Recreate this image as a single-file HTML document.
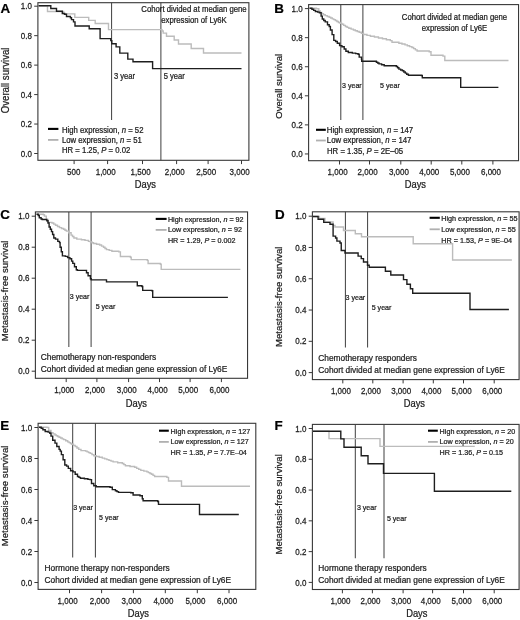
<!DOCTYPE html>
<html><head><meta charset="utf-8"><title>Kaplan-Meier survival curves by Ly6K / Ly6E expression</title>
<style>
html,body{margin:0;padding:0;background:#fff;}
body{width:520px;height:620px;overflow:hidden;}
svg{display:block;font-family:"Liberation Sans", sans-serif;}
</style></head><body>
<svg width="520" height="620" viewBox="0 0 520 620">
<rect width="520" height="620" fill="#fff"/>
<rect x="37.90" y="2.70" width="211.00" height="157.60" fill="none" stroke="#383838" stroke-width="1.1"/>
<line x1="34.20" y1="153.50" x2="37.90" y2="153.50" stroke="#383838" stroke-width="1.0" stroke-linecap="butt"/>
<text transform="translate(31.90,156.60) scale(1,1.14)" font-size="8" text-anchor="end" font-weight="normal" fill="#1c1c1c" stroke="#1c1c1c" stroke-width="0.22" >0.0</text>
<line x1="34.20" y1="124.04" x2="37.90" y2="124.04" stroke="#383838" stroke-width="1.0" stroke-linecap="butt"/>
<text transform="translate(31.90,127.14) scale(1,1.14)" font-size="8" text-anchor="end" font-weight="normal" fill="#1c1c1c" stroke="#1c1c1c" stroke-width="0.22" >0.2</text>
<line x1="34.20" y1="94.58" x2="37.90" y2="94.58" stroke="#383838" stroke-width="1.0" stroke-linecap="butt"/>
<text transform="translate(31.90,97.68) scale(1,1.14)" font-size="8" text-anchor="end" font-weight="normal" fill="#1c1c1c" stroke="#1c1c1c" stroke-width="0.22" >0.4</text>
<line x1="34.20" y1="65.12" x2="37.90" y2="65.12" stroke="#383838" stroke-width="1.0" stroke-linecap="butt"/>
<text transform="translate(31.90,68.22) scale(1,1.14)" font-size="8" text-anchor="end" font-weight="normal" fill="#1c1c1c" stroke="#1c1c1c" stroke-width="0.22" >0.6</text>
<line x1="34.20" y1="35.66" x2="37.90" y2="35.66" stroke="#383838" stroke-width="1.0" stroke-linecap="butt"/>
<text transform="translate(31.90,38.76) scale(1,1.14)" font-size="8" text-anchor="end" font-weight="normal" fill="#1c1c1c" stroke="#1c1c1c" stroke-width="0.22" >0.8</text>
<line x1="34.20" y1="6.20" x2="37.90" y2="6.20" stroke="#383838" stroke-width="1.0" stroke-linecap="butt"/>
<text transform="translate(31.90,9.30) scale(1,1.14)" font-size="8" text-anchor="end" font-weight="normal" fill="#1c1c1c" stroke="#1c1c1c" stroke-width="0.22" >1.0</text>
<line x1="74.10" y1="160.30" x2="74.10" y2="164.10" stroke="#383838" stroke-width="1.0" stroke-linecap="butt"/>
<text transform="translate(73.70,174.60) scale(1,1.14)" font-size="8" text-anchor="middle" font-weight="normal" fill="#1c1c1c" stroke="#1c1c1c" stroke-width="0.22" >500</text>
<line x1="107.60" y1="160.30" x2="107.60" y2="164.10" stroke="#383838" stroke-width="1.0" stroke-linecap="butt"/>
<text transform="translate(105.70,174.60) scale(1,1.14)" font-size="8" text-anchor="middle" font-weight="normal" fill="#1c1c1c" stroke="#1c1c1c" stroke-width="0.22" >1,000</text>
<line x1="142.50" y1="160.30" x2="142.50" y2="164.10" stroke="#383838" stroke-width="1.0" stroke-linecap="butt"/>
<text transform="translate(140.60,174.60) scale(1,1.14)" font-size="8" text-anchor="middle" font-weight="normal" fill="#1c1c1c" stroke="#1c1c1c" stroke-width="0.22" >1,500</text>
<line x1="176.60" y1="160.30" x2="176.60" y2="164.10" stroke="#383838" stroke-width="1.0" stroke-linecap="butt"/>
<text transform="translate(174.70,174.60) scale(1,1.14)" font-size="8" text-anchor="middle" font-weight="normal" fill="#1c1c1c" stroke="#1c1c1c" stroke-width="0.22" >2,000</text>
<line x1="208.10" y1="160.30" x2="208.10" y2="164.10" stroke="#383838" stroke-width="1.0" stroke-linecap="butt"/>
<text transform="translate(206.20,174.60) scale(1,1.14)" font-size="8" text-anchor="middle" font-weight="normal" fill="#1c1c1c" stroke="#1c1c1c" stroke-width="0.22" >2,500</text>
<line x1="241.50" y1="160.30" x2="241.50" y2="164.10" stroke="#383838" stroke-width="1.0" stroke-linecap="butt"/>
<text transform="translate(239.60,174.60) scale(1,1.14)" font-size="8" text-anchor="middle" font-weight="normal" fill="#1c1c1c" stroke="#1c1c1c" stroke-width="0.22" >3,000</text>
<text transform="translate(145.40,187.70) scale(1,1.08)" font-size="9.35" text-anchor="middle" font-weight="normal" fill="#1c1c1c" stroke="#1c1c1c" stroke-width="0.22" >Days</text>
<text transform="translate(8.60,80.40) rotate(-90) scale(1,1.04)" font-size="9.62" text-anchor="middle" font-weight="normal" fill="#1c1c1c" stroke="#1c1c1c" stroke-width="0.22" >Overall survival</text>
<text transform="translate(0.50,12.60) scale(1,1.0)" font-size="13.4" text-anchor="start" font-weight="bold" fill="#000" stroke="#000" stroke-width="0.2" >A</text>
<line x1="111.60" y1="2.70" x2="111.60" y2="120.00" stroke="#3e3e3e" stroke-width="1.0" stroke-linecap="butt"/>
<line x1="160.90" y1="2.70" x2="160.90" y2="160.30" stroke="#3e3e3e" stroke-width="1.0" stroke-linecap="butt"/>
<text transform="translate(114.00,78.65) scale(1,1.1)" font-size="7.6" text-anchor="start" font-weight="normal" fill="#1c1c1c" stroke="#1c1c1c" stroke-width="0.22" >3 year</text>
<text transform="translate(163.70,78.70) scale(1,1.1)" font-size="7.6" text-anchor="start" font-weight="normal" fill="#1c1c1c" stroke="#1c1c1c" stroke-width="0.22" >5 year</text>
<path d="M38.50 5.80H47.50V11.50H63.70V13.90H74.80V17.40H88.70V20.40H95.20V23.50H108.50V29.60H162.00V31.00H163.20V33.10H166.50V36.30H174.20V40.00H178.50V44.00H191.20V48.50H203.50V53.00H241.50" fill="none" stroke="#bcbcbc" stroke-width="1.4" stroke-linejoin="miter"/>
<path d="M38.50 5.80H50.80V8.50H56.50V11.20H62.30V13.50H64.60V14.20H66.50V16.50H70.40V17.70H71.50V19.60H73.50V21.90H75.00V26.00H89.20V28.80H100.10V38.60H110.80V40.60H111.80V43.80H116.10V46.90H119.80V53.10H127.80V59.10H133.00V61.70H152.60V68.60H241.50" fill="none" stroke="#1e1e1e" stroke-width="1.4" stroke-linejoin="miter"/>
<line x1="48.00" y1="128.90" x2="58.40" y2="128.90" stroke="#000" stroke-width="2.1" stroke-linecap="butt"/>
<line x1="48.00" y1="139.90" x2="58.40" y2="139.90" stroke="#b0b0b0" stroke-width="1.8" stroke-linecap="butt"/>
<text transform="translate(61.90,133.00) scale(1,1.12)" font-size="7.75" text-anchor="start" font-weight="normal" fill="#1c1c1c" stroke="#1c1c1c" stroke-width="0.22" >High expression, <tspan font-style="italic">n</tspan> = 52</text>
<text transform="translate(61.90,143.20) scale(1,1.12)" font-size="7.75" text-anchor="start" font-weight="normal" fill="#1c1c1c" stroke="#1c1c1c" stroke-width="0.22" >Low expression, <tspan font-style="italic">n</tspan> = 51</text>
<text transform="translate(61.90,153.40) scale(1,1.12)" font-size="7.75" text-anchor="start" font-weight="normal" fill="#1c1c1c" stroke="#1c1c1c" stroke-width="0.22" >HR = 1.25, <tspan font-style="italic">P</tspan> = 0.02</text>
<text transform="translate(194.00,12.00) scale(1,1.08)" font-size="7.75" text-anchor="middle" font-weight="normal" fill="#1c1c1c" stroke="#1c1c1c" stroke-width="0.22" >Cohort divided at median gene</text>
<text transform="translate(194.00,22.50) scale(1,1.08)" font-size="7.75" text-anchor="middle" font-weight="normal" fill="#1c1c1c" stroke="#1c1c1c" stroke-width="0.22" >expression of Ly6K</text>
<rect x="308.60" y="4.60" width="209.95" height="156.10" fill="none" stroke="#383838" stroke-width="1.1"/>
<line x1="304.90" y1="153.95" x2="308.60" y2="153.95" stroke="#383838" stroke-width="1.0" stroke-linecap="butt"/>
<text transform="translate(302.60,157.05) scale(1,1.14)" font-size="8" text-anchor="end" font-weight="normal" fill="#1c1c1c" stroke="#1c1c1c" stroke-width="0.22" >0.0</text>
<line x1="304.90" y1="124.88" x2="308.60" y2="124.88" stroke="#383838" stroke-width="1.0" stroke-linecap="butt"/>
<text transform="translate(302.60,127.98) scale(1,1.14)" font-size="8" text-anchor="end" font-weight="normal" fill="#1c1c1c" stroke="#1c1c1c" stroke-width="0.22" >0.2</text>
<line x1="304.90" y1="95.81" x2="308.60" y2="95.81" stroke="#383838" stroke-width="1.0" stroke-linecap="butt"/>
<text transform="translate(302.60,98.91) scale(1,1.14)" font-size="8" text-anchor="end" font-weight="normal" fill="#1c1c1c" stroke="#1c1c1c" stroke-width="0.22" >0.4</text>
<line x1="304.90" y1="66.74" x2="308.60" y2="66.74" stroke="#383838" stroke-width="1.0" stroke-linecap="butt"/>
<text transform="translate(302.60,69.84) scale(1,1.14)" font-size="8" text-anchor="end" font-weight="normal" fill="#1c1c1c" stroke="#1c1c1c" stroke-width="0.22" >0.6</text>
<line x1="304.90" y1="37.67" x2="308.60" y2="37.67" stroke="#383838" stroke-width="1.0" stroke-linecap="butt"/>
<text transform="translate(302.60,40.77) scale(1,1.14)" font-size="8" text-anchor="end" font-weight="normal" fill="#1c1c1c" stroke="#1c1c1c" stroke-width="0.22" >0.8</text>
<line x1="304.90" y1="8.60" x2="308.60" y2="8.60" stroke="#383838" stroke-width="1.0" stroke-linecap="butt"/>
<text transform="translate(302.60,11.70) scale(1,1.14)" font-size="8" text-anchor="end" font-weight="normal" fill="#1c1c1c" stroke="#1c1c1c" stroke-width="0.22" >1.0</text>
<line x1="339.50" y1="160.70" x2="339.50" y2="164.50" stroke="#383838" stroke-width="1.0" stroke-linecap="butt"/>
<text transform="translate(337.60,175.00) scale(1,1.14)" font-size="8" text-anchor="middle" font-weight="normal" fill="#1c1c1c" stroke="#1c1c1c" stroke-width="0.22" >1,000</text>
<line x1="369.50" y1="160.70" x2="369.50" y2="164.50" stroke="#383838" stroke-width="1.0" stroke-linecap="butt"/>
<text transform="translate(367.60,175.00) scale(1,1.14)" font-size="8" text-anchor="middle" font-weight="normal" fill="#1c1c1c" stroke="#1c1c1c" stroke-width="0.22" >2,000</text>
<line x1="400.80" y1="160.70" x2="400.80" y2="164.50" stroke="#383838" stroke-width="1.0" stroke-linecap="butt"/>
<text transform="translate(398.90,175.00) scale(1,1.14)" font-size="8" text-anchor="middle" font-weight="normal" fill="#1c1c1c" stroke="#1c1c1c" stroke-width="0.22" >3,000</text>
<line x1="431.20" y1="160.70" x2="431.20" y2="164.50" stroke="#383838" stroke-width="1.0" stroke-linecap="butt"/>
<text transform="translate(429.30,175.00) scale(1,1.14)" font-size="8" text-anchor="middle" font-weight="normal" fill="#1c1c1c" stroke="#1c1c1c" stroke-width="0.22" >4,000</text>
<line x1="461.80" y1="160.70" x2="461.80" y2="164.50" stroke="#383838" stroke-width="1.0" stroke-linecap="butt"/>
<text transform="translate(459.90,175.00) scale(1,1.14)" font-size="8" text-anchor="middle" font-weight="normal" fill="#1c1c1c" stroke="#1c1c1c" stroke-width="0.22" >5,000</text>
<line x1="492.90" y1="160.70" x2="492.90" y2="164.50" stroke="#383838" stroke-width="1.0" stroke-linecap="butt"/>
<text transform="translate(491.00,175.00) scale(1,1.14)" font-size="8" text-anchor="middle" font-weight="normal" fill="#1c1c1c" stroke="#1c1c1c" stroke-width="0.22" >6,000</text>
<text transform="translate(415.40,187.50) scale(1,1.08)" font-size="9.35" text-anchor="middle" font-weight="normal" fill="#1c1c1c" stroke="#1c1c1c" stroke-width="0.22" >Days</text>
<text transform="translate(282.20,86.30) rotate(-90) scale(1,1.04)" font-size="9.47" text-anchor="middle" font-weight="normal" fill="#1c1c1c" stroke="#1c1c1c" stroke-width="0.22" >Overall survival</text>
<text transform="translate(274.30,12.60) scale(1,1.0)" font-size="13.4" text-anchor="start" font-weight="bold" fill="#000" stroke="#000" stroke-width="0.2" >B</text>
<line x1="340.80" y1="4.60" x2="340.80" y2="120.00" stroke="#3e3e3e" stroke-width="1.0" stroke-linecap="butt"/>
<line x1="362.90" y1="4.60" x2="362.90" y2="120.00" stroke="#3e3e3e" stroke-width="1.0" stroke-linecap="butt"/>
<text transform="translate(342.00,87.80) scale(1,1.1)" font-size="7.1" text-anchor="start" font-weight="normal" fill="#1c1c1c" stroke="#1c1c1c" stroke-width="0.22" >3 year</text>
<text transform="translate(380.10,87.80) scale(1,1.1)" font-size="7.1" text-anchor="start" font-weight="normal" fill="#1c1c1c" stroke="#1c1c1c" stroke-width="0.22" >5 year</text>
<path d="M309.50 8.30H316.50V8.70H318.80V11.00H320.25V12.40H321.70V13.80H323.45V14.70H325.20V15.60H327.20V16.45H329.20V17.30H330.73V18.07H332.27V18.83H333.80V19.60H335.33V20.57H336.87V21.53H338.40V22.50H340.15V23.35H341.90V24.20H343.65V25.35H345.40V26.50H347.10V27.40H348.80V28.30H351.10V29.15H353.40V30.00H355.33V30.77H357.27V31.53H359.20V32.30H361.35V33.40H363.50V34.50H366.95V35.35H370.40V36.20H374.43V37.07H378.47V37.93H382.50V38.80H386.40V39.70H390.30V40.60H392.00V42.30H398.90V43.20H401.95V44.05H405.00V44.90H407.30V45.77H409.60V46.63H411.90V47.50H413.63V48.67H415.37V49.83H417.10V51.00H429.20V51.80H431.00V55.30H443.00V56.10H444.80V60.50H508.50" fill="none" stroke="#bcbcbc" stroke-width="1.4" stroke-linejoin="miter"/>
<path d="M309.50 8.30H311.90V9.20H313.65V10.35H315.40V11.50H317.70V12.10H319.40V12.70H321.10V16.10H322.30V19.00H323.75V20.45H325.20V21.90H327.50V24.80H329.20V26.50H330.40V30.00H332.10V34.60H333.80V40.40H335.60V41.50H337.30V43.30H339.60V45.60H341.90V46.70H344.20V49.00H345.90V51.30H348.30V52.50H352.30V53.10H355.70V53.60H358.10V54.20H359.20V57.10H361.50V59.40H361.70V61.30H376.40V61.30H376.40V62.20H377.70V63.05H379.00V63.90H381.60V64.80H384.20V65.70H396.30V65.70H396.30V66.50H397.60V67.80H398.90V69.10H400.65V69.95H402.40V70.80H403.83V71.97H405.27V73.13H406.70V74.30H408.40V75.20H421.40V75.20H421.40V75.50H422.30V77.80H460.70V77.80H460.70V87.40H498.40" fill="none" stroke="#1e1e1e" stroke-width="1.4" stroke-linejoin="miter"/>
<line x1="316.00" y1="129.80" x2="325.80" y2="129.80" stroke="#000" stroke-width="2.1" stroke-linecap="butt"/>
<line x1="316.00" y1="140.50" x2="325.80" y2="140.50" stroke="#b0b0b0" stroke-width="1.8" stroke-linecap="butt"/>
<text transform="translate(326.80,133.00) scale(1,1.12)" font-size="7.8" text-anchor="start" font-weight="normal" fill="#1c1c1c" stroke="#1c1c1c" stroke-width="0.22" >High expression, <tspan font-style="italic">n</tspan> = 147</text>
<text transform="translate(326.80,143.30) scale(1,1.12)" font-size="7.8" text-anchor="start" font-weight="normal" fill="#1c1c1c" stroke="#1c1c1c" stroke-width="0.22" >Low expression, <tspan font-style="italic">n</tspan> = 147</text>
<text transform="translate(327.00,153.60) scale(1,1.12)" font-size="7.8" text-anchor="start" font-weight="normal" fill="#1c1c1c" stroke="#1c1c1c" stroke-width="0.22" >HR = 1.35, <tspan font-style="italic">P</tspan> = 2E–05</text>
<text transform="translate(454.50,20.40) scale(1,1.08)" font-size="7.75" text-anchor="middle" font-weight="normal" fill="#1c1c1c" stroke="#1c1c1c" stroke-width="0.22" >Cohort divided at median gene</text>
<text transform="translate(454.50,30.70) scale(1,1.08)" font-size="7.75" text-anchor="middle" font-weight="normal" fill="#1c1c1c" stroke="#1c1c1c" stroke-width="0.22" >expression of Ly6E</text>
<rect x="35.40" y="211.90" width="212.15" height="166.40" fill="none" stroke="#383838" stroke-width="1.1"/>
<line x1="31.70" y1="371.20" x2="35.40" y2="371.20" stroke="#383838" stroke-width="1.0" stroke-linecap="butt"/>
<text transform="translate(29.40,374.30) scale(1,1.14)" font-size="8" text-anchor="end" font-weight="normal" fill="#1c1c1c" stroke="#1c1c1c" stroke-width="0.22" >0.0</text>
<line x1="31.70" y1="340.20" x2="35.40" y2="340.20" stroke="#383838" stroke-width="1.0" stroke-linecap="butt"/>
<text transform="translate(29.40,343.30) scale(1,1.14)" font-size="8" text-anchor="end" font-weight="normal" fill="#1c1c1c" stroke="#1c1c1c" stroke-width="0.22" >0.2</text>
<line x1="31.70" y1="309.20" x2="35.40" y2="309.20" stroke="#383838" stroke-width="1.0" stroke-linecap="butt"/>
<text transform="translate(29.40,312.30) scale(1,1.14)" font-size="8" text-anchor="end" font-weight="normal" fill="#1c1c1c" stroke="#1c1c1c" stroke-width="0.22" >0.4</text>
<line x1="31.70" y1="278.20" x2="35.40" y2="278.20" stroke="#383838" stroke-width="1.0" stroke-linecap="butt"/>
<text transform="translate(29.40,281.30) scale(1,1.14)" font-size="8" text-anchor="end" font-weight="normal" fill="#1c1c1c" stroke="#1c1c1c" stroke-width="0.22" >0.6</text>
<line x1="31.70" y1="247.20" x2="35.40" y2="247.20" stroke="#383838" stroke-width="1.0" stroke-linecap="butt"/>
<text transform="translate(29.40,250.30) scale(1,1.14)" font-size="8" text-anchor="end" font-weight="normal" fill="#1c1c1c" stroke="#1c1c1c" stroke-width="0.22" >0.8</text>
<line x1="31.70" y1="216.20" x2="35.40" y2="216.20" stroke="#383838" stroke-width="1.0" stroke-linecap="butt"/>
<text transform="translate(29.40,219.30) scale(1,1.14)" font-size="8" text-anchor="end" font-weight="normal" fill="#1c1c1c" stroke="#1c1c1c" stroke-width="0.22" >1.0</text>
<line x1="66.20" y1="378.30" x2="66.20" y2="382.10" stroke="#383838" stroke-width="1.0" stroke-linecap="butt"/>
<text transform="translate(64.30,392.60) scale(1,1.14)" font-size="8" text-anchor="middle" font-weight="normal" fill="#1c1c1c" stroke="#1c1c1c" stroke-width="0.22" >1,000</text>
<line x1="96.90" y1="378.30" x2="96.90" y2="382.10" stroke="#383838" stroke-width="1.0" stroke-linecap="butt"/>
<text transform="translate(95.00,392.60) scale(1,1.14)" font-size="8" text-anchor="middle" font-weight="normal" fill="#1c1c1c" stroke="#1c1c1c" stroke-width="0.22" >2,000</text>
<line x1="128.60" y1="378.30" x2="128.60" y2="382.10" stroke="#383838" stroke-width="1.0" stroke-linecap="butt"/>
<text transform="translate(126.70,392.60) scale(1,1.14)" font-size="8" text-anchor="middle" font-weight="normal" fill="#1c1c1c" stroke="#1c1c1c" stroke-width="0.22" >3,000</text>
<line x1="159.50" y1="378.30" x2="159.50" y2="382.10" stroke="#383838" stroke-width="1.0" stroke-linecap="butt"/>
<text transform="translate(157.60,392.60) scale(1,1.14)" font-size="8" text-anchor="middle" font-weight="normal" fill="#1c1c1c" stroke="#1c1c1c" stroke-width="0.22" >4,000</text>
<line x1="190.10" y1="378.30" x2="190.10" y2="382.10" stroke="#383838" stroke-width="1.0" stroke-linecap="butt"/>
<text transform="translate(188.20,392.60) scale(1,1.14)" font-size="8" text-anchor="middle" font-weight="normal" fill="#1c1c1c" stroke="#1c1c1c" stroke-width="0.22" >5,000</text>
<line x1="221.40" y1="378.30" x2="221.40" y2="382.10" stroke="#383838" stroke-width="1.0" stroke-linecap="butt"/>
<text transform="translate(219.50,392.60) scale(1,1.14)" font-size="8" text-anchor="middle" font-weight="normal" fill="#1c1c1c" stroke="#1c1c1c" stroke-width="0.22" >6,000</text>
<text transform="translate(136.40,406.70) scale(1,1.08)" font-size="9.35" text-anchor="middle" font-weight="normal" fill="#1c1c1c" stroke="#1c1c1c" stroke-width="0.22" >Days</text>
<text transform="translate(8.30,290.90) rotate(-90) scale(1,1.04)" font-size="9.6" text-anchor="middle" font-weight="normal" fill="#1c1c1c" stroke="#1c1c1c" stroke-width="0.22" >Metastasis-free survival</text>
<text transform="translate(0.30,219.40) scale(1,1.0)" font-size="13.4" text-anchor="start" font-weight="bold" fill="#000" stroke="#000" stroke-width="0.2" >C</text>
<line x1="68.85" y1="212.00" x2="68.85" y2="347.00" stroke="#3e3e3e" stroke-width="1.0" stroke-linecap="butt"/>
<line x1="91.10" y1="212.00" x2="91.10" y2="347.00" stroke="#3e3e3e" stroke-width="1.0" stroke-linecap="butt"/>
<text transform="translate(69.80,298.65) scale(1,1.1)" font-size="7.05" text-anchor="start" font-weight="normal" fill="#1c1c1c" stroke="#1c1c1c" stroke-width="0.22" >3 year</text>
<text transform="translate(95.70,309.00) scale(1,1.1)" font-size="7.05" text-anchor="start" font-weight="normal" fill="#1c1c1c" stroke="#1c1c1c" stroke-width="0.22" >5 year</text>
<path d="M36.50 214.30H43.40V214.70H44.50V216.10H46.30V219.50H48.00V222.40H52.00V223.00H53.75V224.15H55.50V225.30H57.50V226.45H59.50V227.60H61.55V228.45H63.60V229.30H65.00V230.20H66.40V231.10H68.80V232.80H71.10V235.10H72.50V236.55H73.90V238.00H76.80V239.10H81.40V239.70H85.00V240.40H88.40V241.40H90.40V241.90H91.95V242.70H93.50V243.50H96.55V244.25H99.60V245.00H101.55V246.15H103.50V247.30H105.00V248.45H106.50V249.60H109.20V250.40H111.90V251.20H118.80V251.90H118.80V251.90H120.40V256.50H130.40V257.30H131.20V259.60H147.30V259.60H147.30V260.40H148.10V263.50H160.40V263.50H160.40V264.20H161.20V269.40H240.40" fill="none" stroke="#bcbcbc" stroke-width="1.4" stroke-linejoin="miter"/>
<path d="M36.50 214.30H38.20V215.50H39.30V217.80H41.10V219.00H42.20V219.50H45.70V219.50H46.80V220.70H48.00V223.00H49.10V227.00H50.30V229.30H51.50V231.60H52.60V234.50H53.80V238.00H55.50V239.10H57.80V241.40H59.50V242.60H60.10V247.20H61.30V251.80H62.40V255.90H65.30V256.40H67.60V257.60H69.90V258.70H71.60V261.10H72.80V263.40H74.50V266.80H76.30V269.70H77.40V270.40H85.00V270.40H86.50V272.70H88.10V275.80H90.40V278.80H91.20V279.90H105.80V279.90H106.50V281.90H136.50V281.90H137.30V285.80H141.90V285.80H141.90V286.50H142.70V290.40H151.90V290.40H151.90V290.70H152.70V297.40H227.90" fill="none" stroke="#1e1e1e" stroke-width="1.4" stroke-linejoin="miter"/>
<line x1="155.70" y1="218.90" x2="166.60" y2="218.90" stroke="#000" stroke-width="2.1" stroke-linecap="butt"/>
<line x1="155.70" y1="229.90" x2="166.60" y2="229.90" stroke="#b0b0b0" stroke-width="1.8" stroke-linecap="butt"/>
<text transform="translate(167.90,221.50) scale(1,1.12)" font-size="7.2" text-anchor="start" font-weight="normal" fill="#1c1c1c" stroke="#1c1c1c" stroke-width="0.22" >High expression, <tspan font-style="italic">n</tspan> = 92</text>
<text transform="translate(167.90,232.45) scale(1,1.12)" font-size="7.2" text-anchor="start" font-weight="normal" fill="#1c1c1c" stroke="#1c1c1c" stroke-width="0.22" >Low expression, <tspan font-style="italic">n</tspan> = 92</text>
<text transform="translate(167.90,243.40) scale(1,1.12)" font-size="7.2" text-anchor="start" font-weight="normal" fill="#1c1c1c" stroke="#1c1c1c" stroke-width="0.22" >HR = 1.29, <tspan font-style="italic">P</tspan> = 0.002</text>
<text transform="translate(40.75,360.00) scale(1,1.06)" font-size="8.35" text-anchor="start" font-weight="normal" fill="#1c1c1c" stroke="#1c1c1c" stroke-width="0.22" >Chemotherapy non-responders</text>
<text transform="translate(40.75,371.50) scale(1,1.06)" font-size="8.35" text-anchor="start" font-weight="normal" fill="#1c1c1c" stroke="#1c1c1c" stroke-width="0.22" >Cohort divided at median gene expression of Ly6E</text>
<rect x="312.40" y="211.80" width="206.70" height="167.80" fill="none" stroke="#383838" stroke-width="1.1"/>
<line x1="308.70" y1="372.60" x2="312.40" y2="372.60" stroke="#383838" stroke-width="1.0" stroke-linecap="butt"/>
<text transform="translate(306.40,375.70) scale(1,1.14)" font-size="8" text-anchor="end" font-weight="normal" fill="#1c1c1c" stroke="#1c1c1c" stroke-width="0.22" >0.0</text>
<line x1="308.70" y1="341.32" x2="312.40" y2="341.32" stroke="#383838" stroke-width="1.0" stroke-linecap="butt"/>
<text transform="translate(306.40,344.42) scale(1,1.14)" font-size="8" text-anchor="end" font-weight="normal" fill="#1c1c1c" stroke="#1c1c1c" stroke-width="0.22" >0.2</text>
<line x1="308.70" y1="310.04" x2="312.40" y2="310.04" stroke="#383838" stroke-width="1.0" stroke-linecap="butt"/>
<text transform="translate(306.40,313.14) scale(1,1.14)" font-size="8" text-anchor="end" font-weight="normal" fill="#1c1c1c" stroke="#1c1c1c" stroke-width="0.22" >0.4</text>
<line x1="308.70" y1="278.76" x2="312.40" y2="278.76" stroke="#383838" stroke-width="1.0" stroke-linecap="butt"/>
<text transform="translate(306.40,281.86) scale(1,1.14)" font-size="8" text-anchor="end" font-weight="normal" fill="#1c1c1c" stroke="#1c1c1c" stroke-width="0.22" >0.6</text>
<line x1="308.70" y1="247.48" x2="312.40" y2="247.48" stroke="#383838" stroke-width="1.0" stroke-linecap="butt"/>
<text transform="translate(306.40,250.58) scale(1,1.14)" font-size="8" text-anchor="end" font-weight="normal" fill="#1c1c1c" stroke="#1c1c1c" stroke-width="0.22" >0.8</text>
<line x1="308.70" y1="216.20" x2="312.40" y2="216.20" stroke="#383838" stroke-width="1.0" stroke-linecap="butt"/>
<text transform="translate(306.40,219.30) scale(1,1.14)" font-size="8" text-anchor="end" font-weight="normal" fill="#1c1c1c" stroke="#1c1c1c" stroke-width="0.22" >1.0</text>
<line x1="342.80" y1="379.60" x2="342.80" y2="383.40" stroke="#383838" stroke-width="1.0" stroke-linecap="butt"/>
<text transform="translate(340.90,393.90) scale(1,1.14)" font-size="8" text-anchor="middle" font-weight="normal" fill="#1c1c1c" stroke="#1c1c1c" stroke-width="0.22" >1,000</text>
<line x1="372.80" y1="379.60" x2="372.80" y2="383.40" stroke="#383838" stroke-width="1.0" stroke-linecap="butt"/>
<text transform="translate(370.90,393.90) scale(1,1.14)" font-size="8" text-anchor="middle" font-weight="normal" fill="#1c1c1c" stroke="#1c1c1c" stroke-width="0.22" >2,000</text>
<line x1="403.10" y1="379.60" x2="403.10" y2="383.40" stroke="#383838" stroke-width="1.0" stroke-linecap="butt"/>
<text transform="translate(401.20,393.90) scale(1,1.14)" font-size="8" text-anchor="middle" font-weight="normal" fill="#1c1c1c" stroke="#1c1c1c" stroke-width="0.22" >3,000</text>
<line x1="433.30" y1="379.60" x2="433.30" y2="383.40" stroke="#383838" stroke-width="1.0" stroke-linecap="butt"/>
<text transform="translate(431.40,393.90) scale(1,1.14)" font-size="8" text-anchor="middle" font-weight="normal" fill="#1c1c1c" stroke="#1c1c1c" stroke-width="0.22" >4,000</text>
<line x1="463.50" y1="379.60" x2="463.50" y2="383.40" stroke="#383838" stroke-width="1.0" stroke-linecap="butt"/>
<text transform="translate(461.60,393.90) scale(1,1.14)" font-size="8" text-anchor="middle" font-weight="normal" fill="#1c1c1c" stroke="#1c1c1c" stroke-width="0.22" >5,000</text>
<line x1="494.20" y1="379.60" x2="494.20" y2="383.40" stroke="#383838" stroke-width="1.0" stroke-linecap="butt"/>
<text transform="translate(492.30,393.90) scale(1,1.14)" font-size="8" text-anchor="middle" font-weight="normal" fill="#1c1c1c" stroke="#1c1c1c" stroke-width="0.22" >6,000</text>
<text transform="translate(414.40,406.70) scale(1,1.08)" font-size="9.35" text-anchor="middle" font-weight="normal" fill="#1c1c1c" stroke="#1c1c1c" stroke-width="0.22" >Days</text>
<text transform="translate(282.10,296.80) rotate(-90) scale(1,1.04)" font-size="9.57" text-anchor="middle" font-weight="normal" fill="#1c1c1c" stroke="#1c1c1c" stroke-width="0.22" >Metastasis-free survival</text>
<text transform="translate(275.00,218.90) scale(1,1.0)" font-size="13.4" text-anchor="start" font-weight="bold" fill="#000" stroke="#000" stroke-width="0.2" >D</text>
<line x1="345.40" y1="211.75" x2="345.40" y2="347.50" stroke="#3e3e3e" stroke-width="1.0" stroke-linecap="butt"/>
<line x1="367.60" y1="211.75" x2="367.60" y2="347.50" stroke="#3e3e3e" stroke-width="1.0" stroke-linecap="butt"/>
<text transform="translate(345.50,299.80) scale(1,1.1)" font-size="7.1" text-anchor="start" font-weight="normal" fill="#1c1c1c" stroke="#1c1c1c" stroke-width="0.22" >3 year</text>
<text transform="translate(371.70,309.80) scale(1,1.1)" font-size="7.1" text-anchor="start" font-weight="normal" fill="#1c1c1c" stroke="#1c1c1c" stroke-width="0.22" >5 year</text>
<path d="M313.00 216.50H319.40V218.50H325.00V222.00H333.10V225.50H335.00V227.00H343.50V230.50H355.30V233.80H361.50V236.70H413.20V243.80H452.60V260.00H511.90" fill="none" stroke="#bcbcbc" stroke-width="1.4" stroke-linejoin="miter"/>
<path d="M313.00 216.50H318.10V219.25H323.75V222.40H330.00V224.25H333.10V225.50H333.10V236.10H335.60V238.00H336.90V241.10H340.00V243.00H341.25V250.50H345.00V253.00H358.10V256.10H361.25V258.60H363.50V262.00H367.50V265.30H369.20V267.30H385.40V271.20H390.80V275.00H403.50V279.60H406.90V284.20H410.40V288.80H412.70V293.20H470.00V309.50H508.90" fill="none" stroke="#1e1e1e" stroke-width="1.4" stroke-linejoin="miter"/>
<line x1="429.60" y1="217.80" x2="439.80" y2="217.80" stroke="#000" stroke-width="2.1" stroke-linecap="butt"/>
<line x1="429.60" y1="229.30" x2="439.80" y2="229.30" stroke="#b0b0b0" stroke-width="1.8" stroke-linecap="butt"/>
<text transform="translate(441.20,220.70) scale(1,1.12)" font-size="7.25" text-anchor="start" font-weight="normal" fill="#1c1c1c" stroke="#1c1c1c" stroke-width="0.22" >High expression, <tspan font-style="italic">n</tspan> = 55</text>
<text transform="translate(441.20,231.65) scale(1,1.12)" font-size="7.25" text-anchor="start" font-weight="normal" fill="#1c1c1c" stroke="#1c1c1c" stroke-width="0.22" >Low expression, <tspan font-style="italic">n</tspan> = 55</text>
<text transform="translate(441.20,242.60) scale(1,1.12)" font-size="7.25" text-anchor="start" font-weight="normal" fill="#1c1c1c" stroke="#1c1c1c" stroke-width="0.22" >HR = 1.53, <tspan font-style="italic">P</tspan> = 9E–04</text>
<text transform="translate(318.25,360.75) scale(1,1.06)" font-size="8.35" text-anchor="start" font-weight="normal" fill="#1c1c1c" stroke="#1c1c1c" stroke-width="0.22" >Chemotherapy responders</text>
<text transform="translate(318.25,372.50) scale(1,1.06)" font-size="8.35" text-anchor="start" font-weight="normal" fill="#1c1c1c" stroke="#1c1c1c" stroke-width="0.22" >Cohort divided at median gene expression of Ly6E</text>
<rect x="38.10" y="423.30" width="217.70" height="166.10" fill="none" stroke="#383838" stroke-width="1.1"/>
<line x1="34.40" y1="582.50" x2="38.10" y2="582.50" stroke="#383838" stroke-width="1.0" stroke-linecap="butt"/>
<text transform="translate(32.10,585.60) scale(1,1.14)" font-size="8" text-anchor="end" font-weight="normal" fill="#1c1c1c" stroke="#1c1c1c" stroke-width="0.22" >0.0</text>
<line x1="34.40" y1="551.50" x2="38.10" y2="551.50" stroke="#383838" stroke-width="1.0" stroke-linecap="butt"/>
<text transform="translate(32.10,554.60) scale(1,1.14)" font-size="8" text-anchor="end" font-weight="normal" fill="#1c1c1c" stroke="#1c1c1c" stroke-width="0.22" >0.2</text>
<line x1="34.40" y1="520.50" x2="38.10" y2="520.50" stroke="#383838" stroke-width="1.0" stroke-linecap="butt"/>
<text transform="translate(32.10,523.60) scale(1,1.14)" font-size="8" text-anchor="end" font-weight="normal" fill="#1c1c1c" stroke="#1c1c1c" stroke-width="0.22" >0.4</text>
<line x1="34.40" y1="489.50" x2="38.10" y2="489.50" stroke="#383838" stroke-width="1.0" stroke-linecap="butt"/>
<text transform="translate(32.10,492.60) scale(1,1.14)" font-size="8" text-anchor="end" font-weight="normal" fill="#1c1c1c" stroke="#1c1c1c" stroke-width="0.22" >0.6</text>
<line x1="34.40" y1="458.50" x2="38.10" y2="458.50" stroke="#383838" stroke-width="1.0" stroke-linecap="butt"/>
<text transform="translate(32.10,461.60) scale(1,1.14)" font-size="8" text-anchor="end" font-weight="normal" fill="#1c1c1c" stroke="#1c1c1c" stroke-width="0.22" >0.8</text>
<line x1="34.40" y1="427.50" x2="38.10" y2="427.50" stroke="#383838" stroke-width="1.0" stroke-linecap="butt"/>
<text transform="translate(32.10,430.60) scale(1,1.14)" font-size="8" text-anchor="end" font-weight="normal" fill="#1c1c1c" stroke="#1c1c1c" stroke-width="0.22" >1.0</text>
<line x1="69.50" y1="589.40" x2="69.50" y2="593.20" stroke="#383838" stroke-width="1.0" stroke-linecap="butt"/>
<text transform="translate(67.60,603.70) scale(1,1.14)" font-size="8" text-anchor="middle" font-weight="normal" fill="#1c1c1c" stroke="#1c1c1c" stroke-width="0.22" >1,000</text>
<line x1="101.60" y1="589.40" x2="101.60" y2="593.20" stroke="#383838" stroke-width="1.0" stroke-linecap="butt"/>
<text transform="translate(99.70,603.70) scale(1,1.14)" font-size="8" text-anchor="middle" font-weight="normal" fill="#1c1c1c" stroke="#1c1c1c" stroke-width="0.22" >2,000</text>
<line x1="133.40" y1="589.40" x2="133.40" y2="593.20" stroke="#383838" stroke-width="1.0" stroke-linecap="butt"/>
<text transform="translate(131.50,603.70) scale(1,1.14)" font-size="8" text-anchor="middle" font-weight="normal" fill="#1c1c1c" stroke="#1c1c1c" stroke-width="0.22" >3,000</text>
<line x1="165.30" y1="589.40" x2="165.30" y2="593.20" stroke="#383838" stroke-width="1.0" stroke-linecap="butt"/>
<text transform="translate(163.40,603.70) scale(1,1.14)" font-size="8" text-anchor="middle" font-weight="normal" fill="#1c1c1c" stroke="#1c1c1c" stroke-width="0.22" >4,000</text>
<line x1="197.30" y1="589.40" x2="197.30" y2="593.20" stroke="#383838" stroke-width="1.0" stroke-linecap="butt"/>
<text transform="translate(195.40,603.70) scale(1,1.14)" font-size="8" text-anchor="middle" font-weight="normal" fill="#1c1c1c" stroke="#1c1c1c" stroke-width="0.22" >5,000</text>
<line x1="229.00" y1="589.40" x2="229.00" y2="593.20" stroke="#383838" stroke-width="1.0" stroke-linecap="butt"/>
<text transform="translate(227.10,603.70) scale(1,1.14)" font-size="8" text-anchor="middle" font-weight="normal" fill="#1c1c1c" stroke="#1c1c1c" stroke-width="0.22" >6,000</text>
<text transform="translate(138.40,616.80) scale(1,1.08)" font-size="9.35" text-anchor="middle" font-weight="normal" fill="#1c1c1c" stroke="#1c1c1c" stroke-width="0.22" >Days</text>
<text transform="translate(8.10,496.00) rotate(-90) scale(1,1.04)" font-size="9.6" text-anchor="middle" font-weight="normal" fill="#1c1c1c" stroke="#1c1c1c" stroke-width="0.22" >Metastasis-free survival</text>
<text transform="translate(0.30,429.80) scale(1,1.0)" font-size="13.4" text-anchor="start" font-weight="bold" fill="#000" stroke="#000" stroke-width="0.2" >E</text>
<line x1="72.70" y1="423.30" x2="72.70" y2="557.50" stroke="#3e3e3e" stroke-width="1.0" stroke-linecap="butt"/>
<line x1="95.40" y1="423.30" x2="95.40" y2="557.50" stroke="#3e3e3e" stroke-width="1.0" stroke-linecap="butt"/>
<text transform="translate(73.20,509.80) scale(1,1.1)" font-size="7.05" text-anchor="start" font-weight="normal" fill="#1c1c1c" stroke="#1c1c1c" stroke-width="0.22" >3 year</text>
<text transform="translate(99.10,520.20) scale(1,1.1)" font-size="7.05" text-anchor="start" font-weight="normal" fill="#1c1c1c" stroke="#1c1c1c" stroke-width="0.22" >5 year</text>
<path d="M38.90 427.20H47.00V427.50H48.70V430.40H51.00V432.70H53.00V433.85H55.00V435.00H56.37V435.77H57.73V436.53H59.10V437.30H60.63V438.07H62.17V438.83H63.70V439.60H65.70V440.75H67.70V441.90H69.07V442.67H70.43V443.43H71.80V444.20H73.50V445.35H75.20V446.50H76.95V447.95H78.70V449.40H81.00V450.60H85.60V451.10H87.13V451.87H88.67V452.63H90.20V453.40H92.00V454.60H93.80V455.80H96.20V456.50H99.25V457.30H102.30V458.10H104.60V458.85H106.90V459.60H108.97V460.37H111.03V461.13H113.10V461.90H117.70V462.70H122.30V463.50H123.85V464.65H125.40V465.80H130.00V466.55H134.60V467.30H136.67V468.33H138.73V469.37H140.80V470.40H143.85V471.15H146.90V471.90H148.43V472.67H149.97V473.43H151.50V474.20H153.05V475.35H154.60V476.50H166.90V477.20H166.90V477.40H168.50V481.00H181.50V481.00H181.50V486.20H250.00" fill="none" stroke="#bcbcbc" stroke-width="1.4" stroke-linejoin="miter"/>
<path d="M38.90 427.20H41.20V428.30H42.90V429.80H45.20V431.50H48.10V432.10H49.80V433.30H51.00V436.10H52.70V440.20H55.00V443.10H56.80V446.50H59.10V449.40H60.20V451.10H61.40V454.60H63.10V459.80H64.80V465.00H66.60V466.10H68.30V468.40H70.60V470.70H72.90V471.90H75.20V474.20H77.50V476.50H78.95V477.35H80.40V478.20H84.40V478.80H87.90V479.40H90.00V479.60H91.50V483.50H93.80V485.80H96.20V486.80H110.00V486.80H110.00V487.30H112.30V489.60H115.40V490.80H116.95V491.60H118.50V492.40H130.80V492.40H130.80V492.70H133.10V495.00H140.00V495.80H142.30V498.80H143.10V500.70H157.70V500.90H157.70V501.50H158.50V504.40H199.50V504.40H199.50V514.50H238.80" fill="none" stroke="#1e1e1e" stroke-width="1.4" stroke-linejoin="miter"/>
<line x1="159.00" y1="430.70" x2="168.80" y2="430.70" stroke="#000" stroke-width="2.1" stroke-linecap="butt"/>
<line x1="159.00" y1="441.90" x2="168.80" y2="441.90" stroke="#b0b0b0" stroke-width="1.8" stroke-linecap="butt"/>
<text transform="translate(170.60,433.50) scale(1,1.12)" font-size="7.2" text-anchor="start" font-weight="normal" fill="#1c1c1c" stroke="#1c1c1c" stroke-width="0.22" >High expression, <tspan font-style="italic">n</tspan> = 127</text>
<text transform="translate(170.60,444.45) scale(1,1.12)" font-size="7.2" text-anchor="start" font-weight="normal" fill="#1c1c1c" stroke="#1c1c1c" stroke-width="0.22" >Low expression, <tspan font-style="italic">n</tspan> = 127</text>
<text transform="translate(170.60,455.40) scale(1,1.12)" font-size="7.2" text-anchor="start" font-weight="normal" fill="#1c1c1c" stroke="#1c1c1c" stroke-width="0.22" >HR = 1.35, <tspan font-style="italic">P</tspan> = 7.7E–04</text>
<text transform="translate(44.50,571.00) scale(1,1.06)" font-size="8.35" text-anchor="start" font-weight="normal" fill="#1c1c1c" stroke="#1c1c1c" stroke-width="0.22" >Hormone therapy non-responders</text>
<text transform="translate(44.50,582.50) scale(1,1.06)" font-size="8.35" text-anchor="start" font-weight="normal" fill="#1c1c1c" stroke="#1c1c1c" stroke-width="0.22" >Cohort divided at median gene expression of Ly6E</text>
<rect x="312.40" y="424.40" width="206.70" height="165.10" fill="none" stroke="#383838" stroke-width="1.1"/>
<line x1="308.70" y1="582.40" x2="312.40" y2="582.40" stroke="#383838" stroke-width="1.0" stroke-linecap="butt"/>
<text transform="translate(306.40,585.50) scale(1,1.14)" font-size="8" text-anchor="end" font-weight="normal" fill="#1c1c1c" stroke="#1c1c1c" stroke-width="0.22" >0.0</text>
<line x1="308.70" y1="551.62" x2="312.40" y2="551.62" stroke="#383838" stroke-width="1.0" stroke-linecap="butt"/>
<text transform="translate(306.40,554.72) scale(1,1.14)" font-size="8" text-anchor="end" font-weight="normal" fill="#1c1c1c" stroke="#1c1c1c" stroke-width="0.22" >0.2</text>
<line x1="308.70" y1="520.84" x2="312.40" y2="520.84" stroke="#383838" stroke-width="1.0" stroke-linecap="butt"/>
<text transform="translate(306.40,523.94) scale(1,1.14)" font-size="8" text-anchor="end" font-weight="normal" fill="#1c1c1c" stroke="#1c1c1c" stroke-width="0.22" >0.4</text>
<line x1="308.70" y1="490.06" x2="312.40" y2="490.06" stroke="#383838" stroke-width="1.0" stroke-linecap="butt"/>
<text transform="translate(306.40,493.16) scale(1,1.14)" font-size="8" text-anchor="end" font-weight="normal" fill="#1c1c1c" stroke="#1c1c1c" stroke-width="0.22" >0.6</text>
<line x1="308.70" y1="459.28" x2="312.40" y2="459.28" stroke="#383838" stroke-width="1.0" stroke-linecap="butt"/>
<text transform="translate(306.40,462.38) scale(1,1.14)" font-size="8" text-anchor="end" font-weight="normal" fill="#1c1c1c" stroke="#1c1c1c" stroke-width="0.22" >0.8</text>
<line x1="308.70" y1="428.50" x2="312.40" y2="428.50" stroke="#383838" stroke-width="1.0" stroke-linecap="butt"/>
<text transform="translate(306.40,431.60) scale(1,1.14)" font-size="8" text-anchor="end" font-weight="normal" fill="#1c1c1c" stroke="#1c1c1c" stroke-width="0.22" >1.0</text>
<line x1="342.40" y1="589.50" x2="342.40" y2="593.30" stroke="#383838" stroke-width="1.0" stroke-linecap="butt"/>
<text transform="translate(340.50,603.80) scale(1,1.14)" font-size="8" text-anchor="middle" font-weight="normal" fill="#1c1c1c" stroke="#1c1c1c" stroke-width="0.22" >1,000</text>
<line x1="372.40" y1="589.50" x2="372.40" y2="593.30" stroke="#383838" stroke-width="1.0" stroke-linecap="butt"/>
<text transform="translate(370.50,603.80) scale(1,1.14)" font-size="8" text-anchor="middle" font-weight="normal" fill="#1c1c1c" stroke="#1c1c1c" stroke-width="0.22" >2,000</text>
<line x1="403.10" y1="589.50" x2="403.10" y2="593.30" stroke="#383838" stroke-width="1.0" stroke-linecap="butt"/>
<text transform="translate(401.20,603.80) scale(1,1.14)" font-size="8" text-anchor="middle" font-weight="normal" fill="#1c1c1c" stroke="#1c1c1c" stroke-width="0.22" >3,000</text>
<line x1="432.60" y1="589.50" x2="432.60" y2="593.30" stroke="#383838" stroke-width="1.0" stroke-linecap="butt"/>
<text transform="translate(430.70,603.80) scale(1,1.14)" font-size="8" text-anchor="middle" font-weight="normal" fill="#1c1c1c" stroke="#1c1c1c" stroke-width="0.22" >4,000</text>
<line x1="463.50" y1="589.50" x2="463.50" y2="593.30" stroke="#383838" stroke-width="1.0" stroke-linecap="butt"/>
<text transform="translate(461.60,603.80) scale(1,1.14)" font-size="8" text-anchor="middle" font-weight="normal" fill="#1c1c1c" stroke="#1c1c1c" stroke-width="0.22" >5,000</text>
<line x1="494.20" y1="589.50" x2="494.20" y2="593.30" stroke="#383838" stroke-width="1.0" stroke-linecap="butt"/>
<text transform="translate(492.30,603.80) scale(1,1.14)" font-size="8" text-anchor="middle" font-weight="normal" fill="#1c1c1c" stroke="#1c1c1c" stroke-width="0.22" >6,000</text>
<text transform="translate(416.80,616.70) scale(1,1.08)" font-size="9.35" text-anchor="middle" font-weight="normal" fill="#1c1c1c" stroke="#1c1c1c" stroke-width="0.22" >Days</text>
<text transform="translate(282.00,504.35) rotate(-90) scale(1,1.04)" font-size="9.55" text-anchor="middle" font-weight="normal" fill="#1c1c1c" stroke="#1c1c1c" stroke-width="0.22" >Metastasis-free survival</text>
<text transform="translate(274.60,429.70) scale(1,1.0)" font-size="13.4" text-anchor="start" font-weight="bold" fill="#000" stroke="#000" stroke-width="0.2" >F</text>
<line x1="355.30" y1="424.20" x2="355.30" y2="558.25" stroke="#3e3e3e" stroke-width="1.0" stroke-linecap="butt"/>
<line x1="384.00" y1="424.20" x2="384.00" y2="558.25" stroke="#3e3e3e" stroke-width="1.0" stroke-linecap="butt"/>
<text transform="translate(356.90,510.40) scale(1,1.1)" font-size="7.1" text-anchor="start" font-weight="normal" fill="#1c1c1c" stroke="#1c1c1c" stroke-width="0.22" >3 year</text>
<text transform="translate(386.90,520.80) scale(1,1.1)" font-size="7.1" text-anchor="start" font-weight="normal" fill="#1c1c1c" stroke="#1c1c1c" stroke-width="0.22" >5 year</text>
<path d="M312.50 431.20H329.00V438.60H380.00V446.40H474.80" fill="none" stroke="#bcbcbc" stroke-width="1.4" stroke-linejoin="miter"/>
<path d="M312.50 431.20H340.80V438.90H344.00V447.20H361.20V455.70H368.00V463.80H383.50V473.40H434.40V491.20H511.30" fill="none" stroke="#1e1e1e" stroke-width="1.4" stroke-linejoin="miter"/>
<line x1="428.00" y1="430.70" x2="437.80" y2="430.70" stroke="#000" stroke-width="2.1" stroke-linecap="butt"/>
<line x1="428.00" y1="441.90" x2="437.80" y2="441.90" stroke="#b0b0b0" stroke-width="1.8" stroke-linecap="butt"/>
<text transform="translate(439.60,433.50) scale(1,1.12)" font-size="7.2" text-anchor="start" font-weight="normal" fill="#1c1c1c" stroke="#1c1c1c" stroke-width="0.22" >High expression, <tspan font-style="italic">n</tspan> = 20</text>
<text transform="translate(439.60,444.30) scale(1,1.12)" font-size="7.2" text-anchor="start" font-weight="normal" fill="#1c1c1c" stroke="#1c1c1c" stroke-width="0.22" >Low expression, <tspan font-style="italic">n</tspan> = 20</text>
<text transform="translate(439.60,455.10) scale(1,1.12)" font-size="7.2" text-anchor="start" font-weight="normal" fill="#1c1c1c" stroke="#1c1c1c" stroke-width="0.22" >HR = 1.36, <tspan font-style="italic">P</tspan> = 0.15</text>
<text transform="translate(318.25,570.75) scale(1,1.06)" font-size="8.35" text-anchor="start" font-weight="normal" fill="#1c1c1c" stroke="#1c1c1c" stroke-width="0.22" >Hormone therapy responders</text>
<text transform="translate(318.25,582.50) scale(1,1.06)" font-size="8.35" text-anchor="start" font-weight="normal" fill="#1c1c1c" stroke="#1c1c1c" stroke-width="0.22" >Cohort divided at median gene expression of Ly6E</text>
</svg>
</body></html>
